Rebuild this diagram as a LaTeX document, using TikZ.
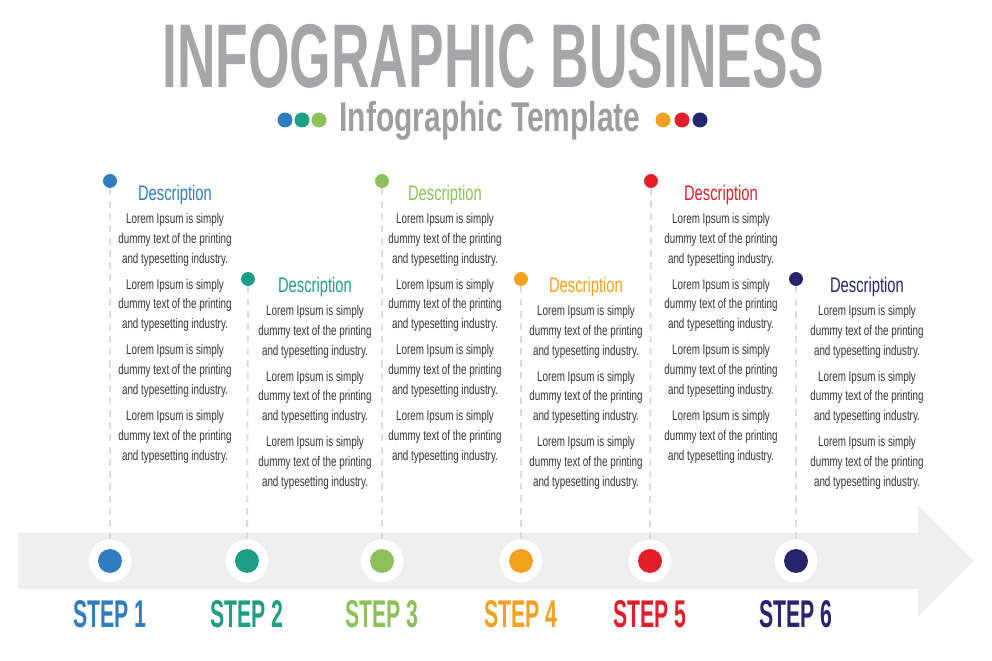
\documentclass[tikz,border=0pt]{standalone}
\usepackage{fontspec}
\setmainfont{Liberation Sans}
\newfontfamily\condfont[FakeStretch=0.7]{Liberation Sans}
\newfontfamily\stepfont[FakeStretch=0.55]{Liberation Sans}
\newfontfamily\titlefont[FakeStretch=0.59]{Liberation Sans}
\newfontfamily\subfont[FakeStretch=0.72]{Liberation Sans}
\usetikzlibrary{positioning}
\definecolor{cblue}{HTML}{2F7DC0}
\definecolor{cteal}{HTML}{1E9E85}
\definecolor{cgreen}{HTML}{8DC05A}
\definecolor{corange}{HTML}{F4A11F}
\definecolor{cred}{HTML}{E31E2A}
\definecolor{cnavy}{HTML}{26256E}
\definecolor{titlegray}{HTML}{A6A6A9}
\definecolor{subgray}{HTML}{9E9EA1}
\definecolor{bandgray}{HTML}{EFEFEF}
\definecolor{dashgray}{HTML}{DCDCDC}
\definecolor{bodygray}{HTML}{333333}
\def\lorem{Lorem Ipsum is simply\\dummy text of the printing\\and typesetting industry.}
\tikzset{
  topdot/.style={circle, inner sep=0pt, minimum size=14pt*0.567, fill=#1},
  stepring/.style={circle, inner sep=0pt, minimum size=43pt*0.567, fill=white},
  stepdot/.style={circle, inner sep=0pt, minimum size=24pt*0.567, fill=#1},
  steplabel/.style={text=#1, font=\fontsize{22pt}{24pt}\selectfont\stepfont\bfseries},
  heading/.style={text=#1, font=\fontsize{12pt}{14pt}\selectfont\condfont},
  bodytext/.style={text=bodygray, align=center, inner sep=0pt,
    font=\fontsize{8pt}{11.34pt}\selectfont\condfont},
  stemline/.style={dashgray, line width=1.1pt, dash pattern=on 4pt off 3pt},
}

\begin{document}
\begin{tikzpicture}[x=0.02cm, y=-0.02cm]
		%%%%% START %%%%%
		\useasboundingbox (0, 0) rectangle (992, 661);

		\node[anchor=base, inner sep=0pt, text depth=0pt, text=titlegray, font=\fontsize{51.5pt}{54pt}\selectfont\titlefont\bfseries] (title) at (493, 88) {INFOGRAPHIC BUSINESS};
		\node[anchor=base, inner sep=0pt, text height=17.5pt, text=subgray, font=\fontsize{23.7pt}{26pt}\selectfont\subfont\bfseries] (subtitle) at (490, 132) {Infographic Template};
		\fill[cblue] (285, 120) circle (7.5);
		\fill[cteal] (302, 120) circle (7.5);
		\fill[cgreen] (319, 120) circle (7.5);
		\fill[corange] (663, 120) circle (7.5);
		\fill[cred] (682, 120) circle (7.5);
		\fill[cnavy] (700, 120) circle (7.5);

		\fill[bandgray] (18, 533) -- (918, 533) -- (918, 505) -- (974, 561) -- (918, 617) -- (918, 589) -- (18, 589) -- cycle;

		\node[topdot=cblue] (dot1) at (110, 181) {};
		\node[topdot=cteal] (dot2) at (248, 279) {};
		\node[topdot=cgreen] (dot3) at (382, 181) {};
		\node[topdot=corange] (dot4) at (521, 279) {};
		\node[topdot=cred] (dot5) at (651, 181) {};
		\node[topdot=cnavy] (dot6) at (796, 279) {};

		\node[stepring] (ring1) at (110, 561) {};
		\node[stepring] (ring2) at (247, 561) {};
		\node[stepring] (ring3) at (382, 561) {};
		\node[stepring] (ring4) at (521, 561) {};
		\node[stepring] (ring5) at (650, 561) {};
		\node[stepring] (ring6) at (796, 561) {};

		\draw[stemline] (dot1) -- (ring1);
		\draw[stemline] (dot2) -- (ring2);
		\draw[stemline] (dot3) -- (ring3);
		\draw[stemline] (dot4) -- (ring4);
		\draw[stemline] (dot5) -- (ring5);
		\draw[stemline] (dot6) -- (ring6);

		\node[stepdot=cblue] at (ring1) {};
		\node[stepdot=cteal] at (ring2) {};
		\node[stepdot=cgreen] at (ring3) {};
		\node[stepdot=corange] at (ring4) {};
		\node[stepdot=cred] at (ring5) {};
		\node[stepdot=cnavy] at (ring6) {};

		\node[steplabel=cblue] (label1) at (110, 614) {STEP 1};
		\node[steplabel=cteal] (label2) at (247, 614) {STEP 2};
		\node[steplabel=cgreen] (label3) at (382, 614) {STEP 3};
		\node[steplabel=corange] (label4) at (521, 614) {STEP 4};
		\node[steplabel=cred] (label5) at (650, 614) {STEP 5};
		\node[steplabel=cnavy] (label6) at (796, 614) {STEP 6};

		\node[heading=cblue] (desc1) at (175, 195) {Description};
		\node[bodytext, below=1pt of desc1] (text1) {\lorem\\[3.4pt]\lorem\\[3.4pt]\lorem\\[3.4pt]\lorem};
		\node[heading=cteal] (desc2) at (315, 287) {Description};
		\node[bodytext, below=1pt of desc2] (text2) {\lorem\\[3.4pt]\lorem\\[3.4pt]\lorem};
		\node[heading=cgreen] (desc3) at (445, 195) {Description};
		\node[bodytext, below=1pt of desc3] (text3) {\lorem\\[3.4pt]\lorem\\[3.4pt]\lorem\\[3.4pt]\lorem};
		\node[heading=corange] (desc4) at (586, 287) {Description};
		\node[bodytext, below=1pt of desc4] (text4) {\lorem\\[3.4pt]\lorem\\[3.4pt]\lorem};
		\node[heading=cred] (desc5) at (721, 195) {Description};
		\node[bodytext, below=1pt of desc5] (text5) {\lorem\\[3.4pt]\lorem\\[3.4pt]\lorem\\[3.4pt]\lorem};
		\node[heading=cnavy] (desc6) at (867, 287) {Description};
		\node[bodytext, below=1pt of desc6] (text6) {\lorem\\[3.4pt]\lorem\\[3.4pt]\lorem};
		%%%%% END %%%%%
\end{tikzpicture}
\end{document}
